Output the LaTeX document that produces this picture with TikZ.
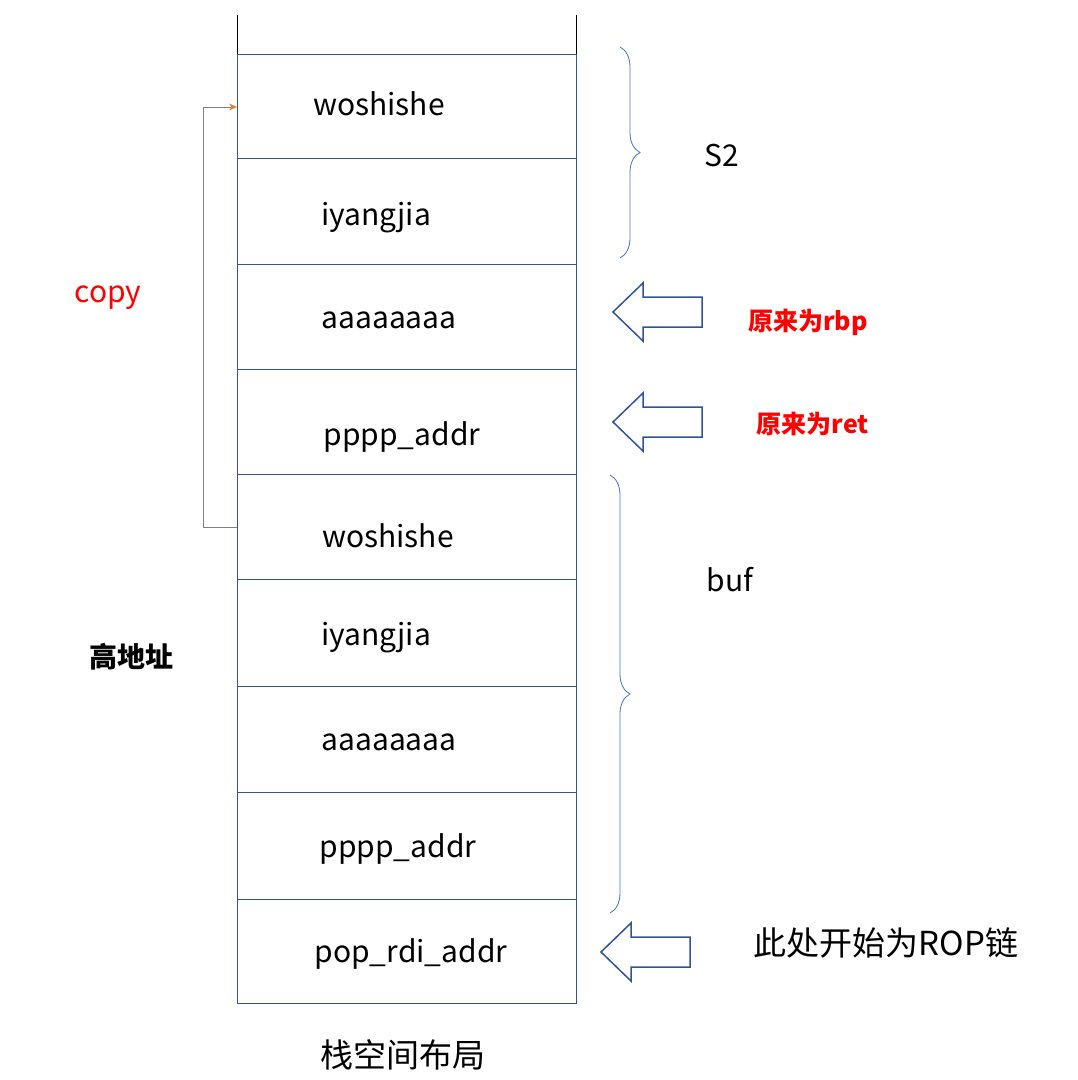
\documentclass[tikz,border=0pt]{standalone}
\usepackage{fontspec}
\setmainfont{Noto Sans CJK SC}
\usetikzlibrary{decorations.pathreplacing,arrows.meta}
\definecolor{sb}{HTML}{2F5597}
\definecolor{br}{HTML}{4472C4}
\definecolor{og}{HTML}{ED7D31}
\tikzset{cell/.style={draw=sb,line width=1.3pt,minimum width=339pt,minimum height=105pt,inner sep=0pt,anchor=north west},
 txt/.style={font=\fontsize{30pt}{32pt}\selectfont},
 barrow/.style={draw=sb,line width=1.5pt,line join=miter},
 brc/.style={draw=br,line width=0.8pt,decorate,decoration={brace,amplitude=20pt}}}
\newcommand{\blockarrow}[2]{\draw[barrow] (#1,#2) -- ++(30,-29) -- ++(0,14) -- ++(59,0) -- ++(0,30) -- ++(-59,0) -- ++(0,14) -- cycle;}
\begin{document}
\begin{tikzpicture}[x=1pt,y=-1pt]
\useasboundingbox (0,0) rectangle (1078,1080);
\draw[line width=1pt] (237,15) -- (237,54) (576,15) -- (576,105);
\foreach \i/\y/\h in {1/54/104,2/158/106,3/264/105,4/369/105,5/474/105,6/579/107,7/686/106,8/792/107,9/899/104}
  \node[cell,minimum height=\h pt] (r\i) at (237,\y) {};
\node[txt] (t1) at (379,104) {woshishe};
\node[txt] (t2) at (376,218) {iyangjia};
\node[txt] (t3) at (389,320) {aaaaaaaa};
\node[txt] (t4) at (402,437) {pppp\_addr};
\node[txt] (t5) at (388,536) {woshishe};
\node[txt] (t6) at (376,638) {iyangjia};
\node[txt] (t7) at (389,742) {aaaaaaaa};
\node[txt] (t8) at (398,849) {pppp\_addr};
\node[txt] (t9) at (411,954) {pop\_rdi\_addr};
\coordinate (c1) at (237,527); \coordinate (c2) at (237,107);
\draw[gray,line width=0.8pt,-{Stealth[color=og,length=8pt,width=7pt]}] (c1) -- (203,527) -- (203,107) -- (c2);
\draw[brc] (620,47) -- (620,258);
\draw[brc] (610,475) -- (610,913);
\blockarrow{613}{312}
\blockarrow{613}{422}
\blockarrow{601}{952}
\node[txt,red] (cp) at (108,298) {copy};
\node[font=\fontsize{28pt}{30pt}\selectfont\bfseries] (hd) at (131,657) {高地址};
\node[txt] (s2) at (722,155) {S2};
\node[txt] (bf) at (730,580) {buf};
\node[red,font=\fontsize{25pt}{27pt}\selectfont\bfseries] (rb) at (808,322) {原来为rbp};
\node[red,font=\fontsize{25pt}{27pt}\selectfont\bfseries] (rt) at (813,424) {原来为ret};
\node[font=\fontsize{33pt}{35pt}\selectfont] (rop) at (886,943) {此处开始为ROP链};
\node[font=\fontsize{33pt}{35pt}\selectfont] (lay) at (403,1055) {栈空间布局};
\end{tikzpicture}
\end{document}
